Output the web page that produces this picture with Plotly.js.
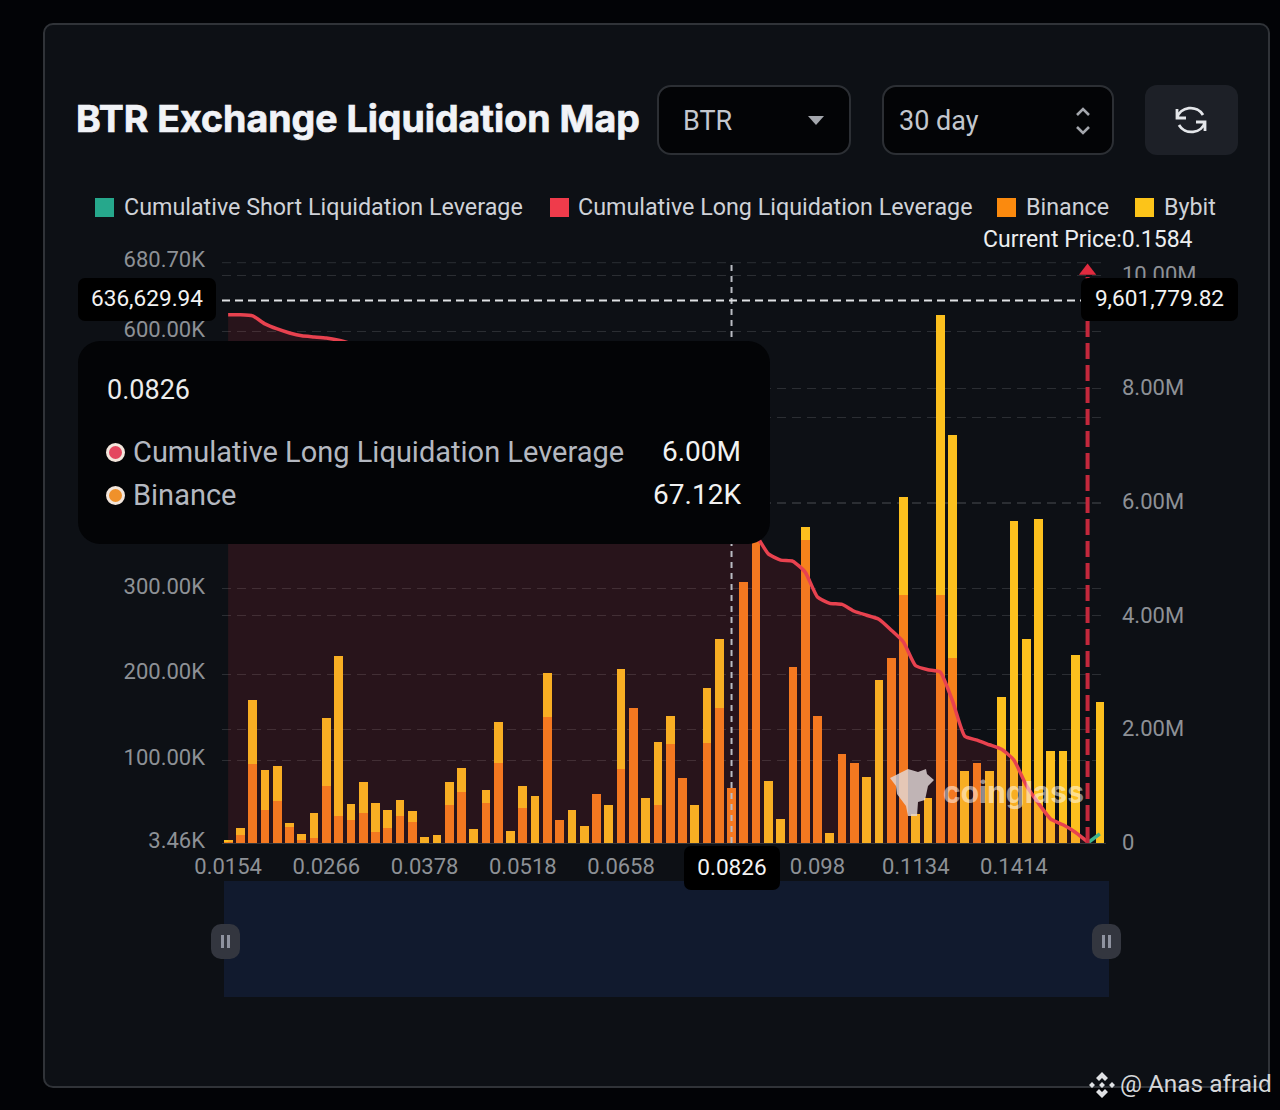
<!DOCTYPE html>
<html>
<head>
<meta charset="utf-8">
<title>BTR Exchange Liquidation Map</title>
<script src="https://cdn.plot.ly/plotly-3.0.1.min.js"></script>
<style>
  html, body { margin: 0; padding: 0; background: #020306; }
  body { width: 1280px; height: 1110px; position: relative; overflow: hidden; font-family: Roboto, sans-serif; }
  .abs { position: absolute; box-sizing: border-box; }
  #card { left: 43px; top: 23px; width: 1227px; height: 1065px; background: #0d1015; border: 2px solid #303338; border-radius: 10px; }
  #chart { left: 0; top: 0; width: 1280px; height: 1110px; }
  #chart .gtitle { stroke: #f1f3f7; stroke-width: 0.7px; }
  .select { background: #030406; border: 2px solid #2c2f34; border-radius: 14px; color: #c3c7ce; font-size: 27px; line-height: 69px; top: 85px; height: 70px; }
  .leg { top: 192px; color: #cfd2d8; font-size: 23.3px; line-height: 30px; white-space: nowrap; }
  .sw { top: 198px; width: 19px; height: 19px; }
  .badge { background: #000; color: #f2f2f2; font-size: 22.6px; border-radius: 7px; text-align: center; white-space: nowrap; }
  #tip { left: 78px; top: 341px; width: 692px; height: 203px; background: #030406; border-radius: 22px; }
  .tiptxt { white-space: nowrap; font-size: 29px; line-height: 36px; }
  .tipval { white-space: nowrap; font-size: 28px; line-height: 36px; color: #f2f2f2; }
  .dot { width: 19px; height: 19px; border-radius: 50%; border: 3px solid #f3e6dc; }
  .handle { top: 924px; width: 29px; height: 35px; border-radius: 10px; background: #33363f; }
  .handle i { position: absolute; top: 11px; width: 3px; height: 13px; background: #8f93a0; }
</style>
</head>
<body>
<div id="card" class="abs"></div>
<div id="chart" class="abs"></div>

<div class="abs select" style="left:657px;width:194px;padding-left:24px">BTR</div>
<svg class="abs" style="left:807px;top:115px" width="18" height="11"><path d="M1 1 H17 L9 10 Z" fill="#a4a7ad"/></svg>
<div class="abs select" style="left:882px;width:232px;padding-left:15px">30 day</div>
<svg class="abs" style="left:1073px;top:105px" width="20" height="32" fill="none" stroke="#a4a7ad" stroke-width="2.6"><path d="M4 10 L10 4 L16 10 M4 22 L10 28 L16 22"/></svg>
<div class="abs" style="left:1145px;top:85px;width:93px;height:70px;background:#1d2027;border-radius:12px;"></div>
<svg class="abs" style="left:1174px;top:104px" width="34" height="32" fill="none" stroke="#e4e6ea" stroke-width="2.8"><path d="M3 14 A14 13 0 0 1 29 11 M31 18 A14 13 0 0 1 5 21 M3 5 V14 H12 M31 27 V18 H22"/></svg>

<div class="abs sw" style="left:95px;background:#26a88c"></div>
<div class="abs leg" style="left:124px">Cumulative Short Liquidation Leverage</div>
<div class="abs sw" style="left:550px;background:#ef3b4b"></div>
<div class="abs leg" style="left:578px">Cumulative Long Liquidation Leverage</div>
<div class="abs sw" style="left:997px;background:#fb8a0e"></div>
<div class="abs leg" style="left:1026px">Binance</div>
<div class="abs sw" style="left:1135px;background:#fcc419"></div>
<div class="abs leg" style="left:1164px">Bybit</div>

<div class="abs" style="left:224px;top:881px;width:885px;height:116px;background:#111a2e"></div>
<div class="abs handle" style="left:211px"><i style="left:10px"></i><i style="left:16px"></i></div>
<div class="abs handle" style="left:1092px"><i style="left:10px"></i><i style="left:16px"></i></div>

<svg class="abs" style="left:888px;top:766px" width="48" height="54"><path d="M2 12 L14 6 L20 3 L30 6 L38 3 L39 8 L46 14 L40 20 L37 34 L30 36 L29 50 L20 50 L18 40 L9 28 L8 20 Z" fill="rgba(226,216,216,0.82)"/></svg>
<div class="abs" style="left:943px;top:774px;font:700 30px Inter,sans-serif;color:rgba(255,255,255,0.5);white-space:nowrap">coinglass</div>

<div id="tip" class="abs"></div>
<div class="abs tiptxt" style="left:107px;top:372px;color:#ececec;font-size:27px">0.0826</div>
<div class="abs dot" style="left:106px;top:443px;background:#e4475f"></div>
<div class="abs tiptxt" style="left:133px;top:434px;color:#b4b8c0">Cumulative Long Liquidation Leverage</div>
<div class="abs tipval" style="right:539px;top:434px">6.00M</div>
<div class="abs dot" style="left:106px;top:486px;background:#f0912a"></div>
<div class="abs tiptxt" style="left:133px;top:477px;color:#b4b8c0">Binance</div>
<div class="abs tipval" style="right:539px;top:477px">67.12K</div>

<div class="abs badge" style="left:78px;top:278px;width:138px;height:43px;line-height:41px">636,629.94</div>
<div class="abs badge" style="left:1081px;top:278px;width:157px;height:43px;line-height:41px">9,601,779.82</div>
<div class="abs badge" style="left:684px;top:846px;width:96px;height:44px;line-height:44px">0.0826</div>

<svg class="abs" style="left:1088px;top:1071px" width="28" height="28" fill="#dfe1e4"><path d="M14 1 L20 7 L17 10 L14 7 L11 10 L8 7 Z M14 27 L8 21 L11 18 L14 21 L17 18 L20 21 Z M14 11 L17 14 L14 17 L11 14 Z M4 11 L7 14 L4 17 L1 14 Z M24 11 L27 14 L24 17 L21 14 Z"/></svg>
<div class="abs" style="left:1120px;top:1068px;font-size:24.4px;line-height:32px;color:#d5d7da;white-space:nowrap">@ Anas afraid</div>

<script>
  // price buckets on the x axis
  const prices = [
    "0.0154", "0.0168", "0.0182", "0.0196", "0.021", "0.0224", "0.0238", "0.0252", "0.0266",
    "0.028", "0.0294", "0.0308", "0.0322", "0.0336", "0.035", "0.0364", "0.0378",
    "0.0392", "0.0406", "0.042", "0.0434", "0.0448", "0.0462", "0.049", "0.0518",
    "0.0532", "0.0546", "0.056", "0.0574", "0.0602", "0.0616", "0.063", "0.0658",
    "0.0672", "0.0686", "0.07", "0.0714", "0.0728", "0.0756", "0.077", "0.0798", "0.0826",
    "0.084", "0.0854", "0.0882", "0.0896", "0.091", "0.0938", "0.098",
    "0.0994", "0.1008", "0.1022", "0.1036", "0.1064", "0.1078", "0.1092", "0.1134",
    "0.1148", "0.1176", "0.1204", "0.1232", "0.126", "0.1302", "0.1358", "0.1414",
    "0.1442", "0.147", "0.1498", "0.1526", "0.1554", "0.1584", "0.1612"
  ];

  // thousands
  const binance = [
    4.5, 12.4, 95.4, 42.4, 52.1, 22, 6.6, 9.3, 69.7, 35, 30.3, 38.5, 15.9, 21.4, 34.6, 27.6,
    0, 0, 47.8, 62.6, 0, 50.2, 97.3, 0, 44, 0, 150, 30.3, 0, 0, 60.3, 0,
    90.3, 160.8, 0, 48.2, 119.4, 79.8, 0, 120, 160.8, 67.12, 307.7, 360, 0, 0, 208.5, 357,
    151.3, 0, 107.4, 97.4, 0, 0, 219.5, 293, 0, 0, 293, 219.5, 0, 97.4, 0, 0, 0, 0, 0, 0, 0, 0, 0, 0
  ];
  const bybit = [
    2.9, 9, 74.6, 46.6, 40.9, 4.4, 7.8, 29.6, 79.3, 186.5, 18.3, 36.2, 33.9, 21, 18.7, 13.6,
    10.5, 12.4, 26.5, 28.1, 19.4, 15.2, 47.7, 17.1, 25.7, 58, 52, 0, 41.6, 23.3, 0, 48.2,
    116.4, 0, 56.4, 73.6, 32, 0, 47.8, 64.7, 81.2, 0, 0, 0, 76, 31.6, 0, 15,
    0, 15.4, 0, 0, 80.7, 194, 0, 114.4, 36.8, 56, 326.6, 259.9, 87, 0, 87, 173.7, 379.7, 241.4, 381.6, 111.2, 111.2, 223.3, 0, 167.5
  ];

  // millions, the stretch under the tooltip is a guess between what shows either side
  const longLeverage = [
    9.30, 9.30, 9.28, 9.14, 9.05, 8.98, 8.93, 8.91, 8.89, 8.85, 8.79, 8.72, 8.66, 8.6, 8.55, 8.5,
    8.47, 8.45, 8.38, 8.28, 8.24, 8.15, 8.0, 7.95, 7.85, 7.78, 7.6, 7.55, 7.5, 7.45, 7.35, 7.28,
    7.1, 6.95, 6.88, 6.8, 6.68, 6.6, 6.52, 6.4, 6.22, 6.0, 5.65, 5.42, 5.09, 4.98, 4.96, 4.77,
    4.33, 4.22, 4.2, 4.08, 4.01, 3.94, 3.75, 3.54, 3.12, 3.05, 3.01, 2.5, 1.88, 1.81, 1.73, 1.65,
    1.46, 1.02, 0.7, 0.42, 0.32, 0.19, 0.02
  ];
  const shortPrices = ["0.1584", "0.1612"];
  const shortLeverage = [0, 0.16];

  const currentPrice = "0.1584";
  const hoverPrice = "0.0826";
  const hoverLeft = 636.62994;

  const xTicks = ["0.0154", "0.0266", "0.0378", "0.0518", "0.0658", "0.098", "0.1134", "0.1414"];
  // 400K and 500K sit behind the tooltip in the picture, so their labels stay empty
  const leftTicks = [3.46, 100, 200, 300, 400, 500, 600, 680.7];
  const leftLabels = ["3.46K", "100.00K", "200.00K", "300.00K", "", "", "600.00K", "680.70K"];
  const rightTicks = [0, 2, 4, 6, 8, 10];
  const rightLabels = ["0", "2.00M", "4.00M", "6.00M", "8.00M", "10.00M"];

  const TICK_FONT = { family: "Roboto, sans-serif", size: 22, color: "#8d9196" };
  const GRID = "#2b2e33";
  const GRID_DASH = "9px,6px";

  // numeric-looking strings get misread by shapes on a category axis, so use the index
  const currentIndex = prices.indexOf(currentPrice);
  const hoverIndex = prices.indexOf(hoverPrice);
  const leftTop = leftTicks[leftTicks.length - 1];

  const traces = [
    { type: "bar", name: "Binance", x: prices, y: binance, marker: { color: "#f6821b" }, hoverinfo: "skip" },
    { type: "bar", name: "Bybit", x: prices, y: bybit, marker: { color: "#fcc01e" }, hoverinfo: "skip" },
    {
      type: "scatter",
      mode: "lines",
      name: "Cumulative Long Liquidation Leverage",
      x: prices.slice(0, longLeverage.length),
      y: longLeverage,
      yaxis: "y2",
      line: { color: "#e8424f", width: 3.5, shape: "spline", smoothing: 0.5 },
      fill: "tozeroy",
      fillcolor: "rgba(226,52,66,0.13)",
      hoverinfo: "skip"
    },
    {
      type: "scatter",
      mode: "lines",
      name: "Cumulative Short Liquidation Leverage",
      x: shortPrices,
      y: shortLeverage,
      yaxis: "y2",
      line: { color: "#3cb58f", width: 3.5 },
      hoverinfo: "skip"
    },
    {
      type: "scatter",
      mode: "markers",
      x: [currentPrice],
      y: [10.07],
      yaxis: "y2",
      marker: { symbol: "triangle-up", size: 15, color: "#e02b3f" },
      hoverinfo: "skip"
    }
  ];

  const layout = {
    width: 1280,
    height: 1110,
    margin: { l: 222, r: 174, t: 262, b: 267, pad: 0 },
    paper_bgcolor: "rgba(0,0,0,0)",
    plot_bgcolor: "rgba(0,0,0,0)",
    showlegend: false,
    barmode: "stack",
    bargap: 0.29,
    title: {
      text: "<b>BTR Exchange Liquidation Map</b>",
      x: 76 / 1280,
      xanchor: "left",
      y: 1 - 119 / 1110,
      yanchor: "middle",
      font: { family: "Inter, sans-serif", size: 37.5, color: "#f1f3f7" }
    },
    xaxis: {
      type: "category",
      categoryorder: "array",
      categoryarray: prices,
      range: [-0.5, prices.length - 0.5],
      tickmode: "array",
      tickvals: xTicks,
      ticktext: xTicks,
      tickangle: 0,
      ticks: "",
      ticklabelstandoff: 4,
      tickfont: TICK_FONT,
      showgrid: false,
      zeroline: false,
      showline: true,
      linecolor: "#34373b",
      linewidth: 1
    },
    yaxis: {
      range: [3.46, 681.5],
      tickmode: "array",
      tickvals: leftTicks,
      ticktext: leftLabels,
      ticks: "",
      ticklabelstandoff: 16,
      ticklabelshift: -3,
      tickfont: TICK_FONT,
      gridcolor: GRID,
      griddash: GRID_DASH,
      zeroline: false
    },
    yaxis2: {
      overlaying: "y",
      side: "right",
      range: [0, 10.229],
      tickmode: "array",
      tickvals: rightTicks,
      ticktext: rightLabels,
      ticks: "",
      ticklabelstandoff: 15,
      ticklabelshift: -1,
      tickfont: TICK_FONT,
      gridcolor: GRID,
      griddash: GRID_DASH,
      zeroline: false
    },
    shapes: [
      // the top gridline does not get drawn this close to the axis end
      { type: "line", xref: "paper", yref: "y", x0: 0, x1: 1, y0: leftTop, y1: leftTop, layer: "below", line: { color: GRID, width: 1, dash: GRID_DASH } },
      { type: "line", xref: "x", yref: "paper", x0: hoverIndex, x1: hoverIndex, y0: 0, y1: 1, line: { color: "#b9bcc2", width: 2, dash: "6px,5px" } },
      { type: "line", xref: "paper", yref: "y", x0: 0, x1: 1, y0: hoverLeft, y1: hoverLeft, line: { color: "#dfe1e4", width: 2, dash: "8px,5px" } },
      { type: "line", xref: "x", yref: "paper", x0: currentIndex, x1: currentIndex, y0: 0, y1: 0.975, line: { color: "#c4283c", width: 4, dash: "16px,6px" } }
    ],
    annotations: [
      {
        text: "Current Price:" + currentPrice,
        xref: "x",
        yref: "paper",
        x: currentIndex,
        y: 1,
        yanchor: "bottom",
        yshift: 7,
        showarrow: false,
        font: { family: "Roboto, sans-serif", size: 23, color: "#eceef0" }
      }
    ]
  };

  Plotly.newPlot("chart", traces, layout, { displayModeBar: false, staticPlot: true });
</script>
</body>
</html>
